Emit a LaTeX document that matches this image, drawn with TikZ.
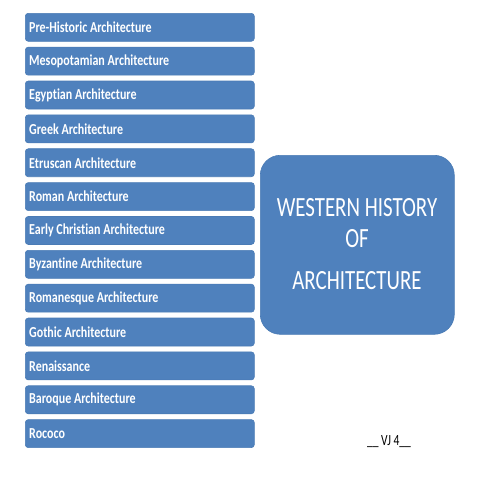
\documentclass[tikz,border=0pt]{standalone}
\usepackage{fontspec}
\setmainfont{Carlito}[Ligatures={NoCommon,NoRare,NoDiscretionary}]
\definecolor{boxblue}{HTML}{4F81BD}
\definecolor{edgeblue}{HTML}{4A7BB5}
\begin{document}
\begin{tikzpicture}[x=1pt,y=-1pt,
  item/.style={draw=edgeblue, line width=0.6pt, fill=boxblue, rounded corners=3pt,
    minimum width=229pt, minimum height=28pt, anchor=north west, inner sep=0pt},
  itemtext/.style={anchor=west, text=white, font=\fontsize{12}{12}\selectfont\bfseries, yscale=1.27, inner sep=0pt},
  bigbox/.style={draw=edgeblue, line width=0.6pt, fill=boxblue, rounded corners=20pt,
    minimum width=194pt, minimum height=179pt, anchor=north west, inner sep=0pt},
  bigtext/.style={anchor=base, text=white, font=\fontsize{20.9}{22}\selectfont, yscale=1.33, inner sep=0pt}]
\useasboundingbox (0,0) rectangle (480,480);
\fill[white] (0,0) rectangle (480,480);
\foreach \t [count=\i from 0] in {Pre-Historic Architecture, Mesopotamian Architecture, Egyptian Architecture, Greek Architecture, Etruscan Architecture, Roman Architecture, Early Christian Architecture, Byzantine Architecture, Romanesque Architecture, Gothic Architecture, Renaissance, Baroque Architecture, Rococo}{
  \node[item] (b\i) at (25,{13+\i*33.86}) {};
  \node[itemtext] (t\i) at ([xshift=4pt]b\i.west) {\t};
}
\node[bigbox] (main) at (260,155) {};
\node[bigtext] (l1) at (357,216) {WESTERN HISTORY};
\node[bigtext] (l2) at (357,247) {OF};
\node[bigtext] (l3) at (357,289) {ARCHITECTURE};
\node[anchor=base, inner sep=0pt, font=\fontsize{11.5}{12}\selectfont, yscale=1.35] (sig) at (389,445) {\_\_ VJ 4\_\_};
\end{tikzpicture}
\end{document}
